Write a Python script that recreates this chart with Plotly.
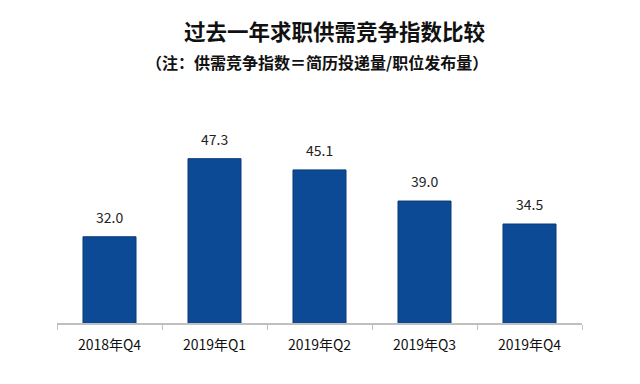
import plotly.graph_objects as go

categories = ["2018年Q4", "2019年Q1", "2019年Q2", "2019年Q3", "2019年Q4"]
values = [32.0, 47.3, 45.1, 39.0, 34.5]
title_text = "过去一年求职供需竞争指数比较"
subtitle_text = "（注：供需竞争指数＝简历投递量/职位发布量）"

FONT = "Noto Sans CJK SC, Noto Sans, sans-serif"

L, R, T, B = 57, 58, 100, 61
W, H = 640, 384

fig = go.Figure()
fig.add_trace(go.Bar(
    x=categories, y=values,
    marker=dict(color="#0C4A95", line=dict(color="#0A3B7A", width=1)),
    width=0.505,
    cliponaxis=False,
))

pw = W - L - R
ph = H - T - B
def px_to_paper(x, y):
    return (x - L) / pw, (H - B - y) / ph

ax, ay = px_to_paper(335, 30)
bx, by = px_to_paper(317, 62)

annotations = [
    dict(text="<b>" + title_text + "</b>", x=ax, xref="paper", y=ay, yref="paper",
         xanchor="center", yanchor="middle",
         showarrow=False, font=dict(size=21.5, color="#111111", family=FONT)),
    dict(text="<b>" + subtitle_text + "</b>", x=bx, xref="paper", y=by, yref="paper",
         xanchor="center", yanchor="middle",
         showarrow=False, font=dict(size=16, color="#111111", family=FONT)),
]
for c, v in zip(categories, values):
    annotations.append(dict(
        text=f"{v:.1f}", x=c, y=v, xref="x", yref="y",
        xanchor="center", yanchor="bottom", yshift=8,
        showarrow=False, font=dict(size=14, color="#222222", family=FONT),
    ))

fig.update_layout(
    width=W, height=H,
    margin=dict(l=L, r=R, t=T, b=B, autoexpand=False),
    paper_bgcolor="white", plot_bgcolor="white",
    showlegend=False,
    font=dict(family=FONT, color="#111111"),
    xaxis=dict(
        showline=True, linecolor="#BFBFBF", linewidth=1.5,
        ticks="outside", tickson="boundaries", ticklen=5, tickcolor="#BFBFBF",
        tickfont=dict(size=14, color="#111111", family=FONT),
        ticklabelstandoff=8,
        showgrid=False, automargin=False,
    ),
    yaxis=dict(range=[15.1, 58.8], visible=False, showgrid=False),
    annotations=annotations,
)

fig.write_html("out.html", config={"displayModeBar": False},
               post_script="document.body.style.margin='0';")
